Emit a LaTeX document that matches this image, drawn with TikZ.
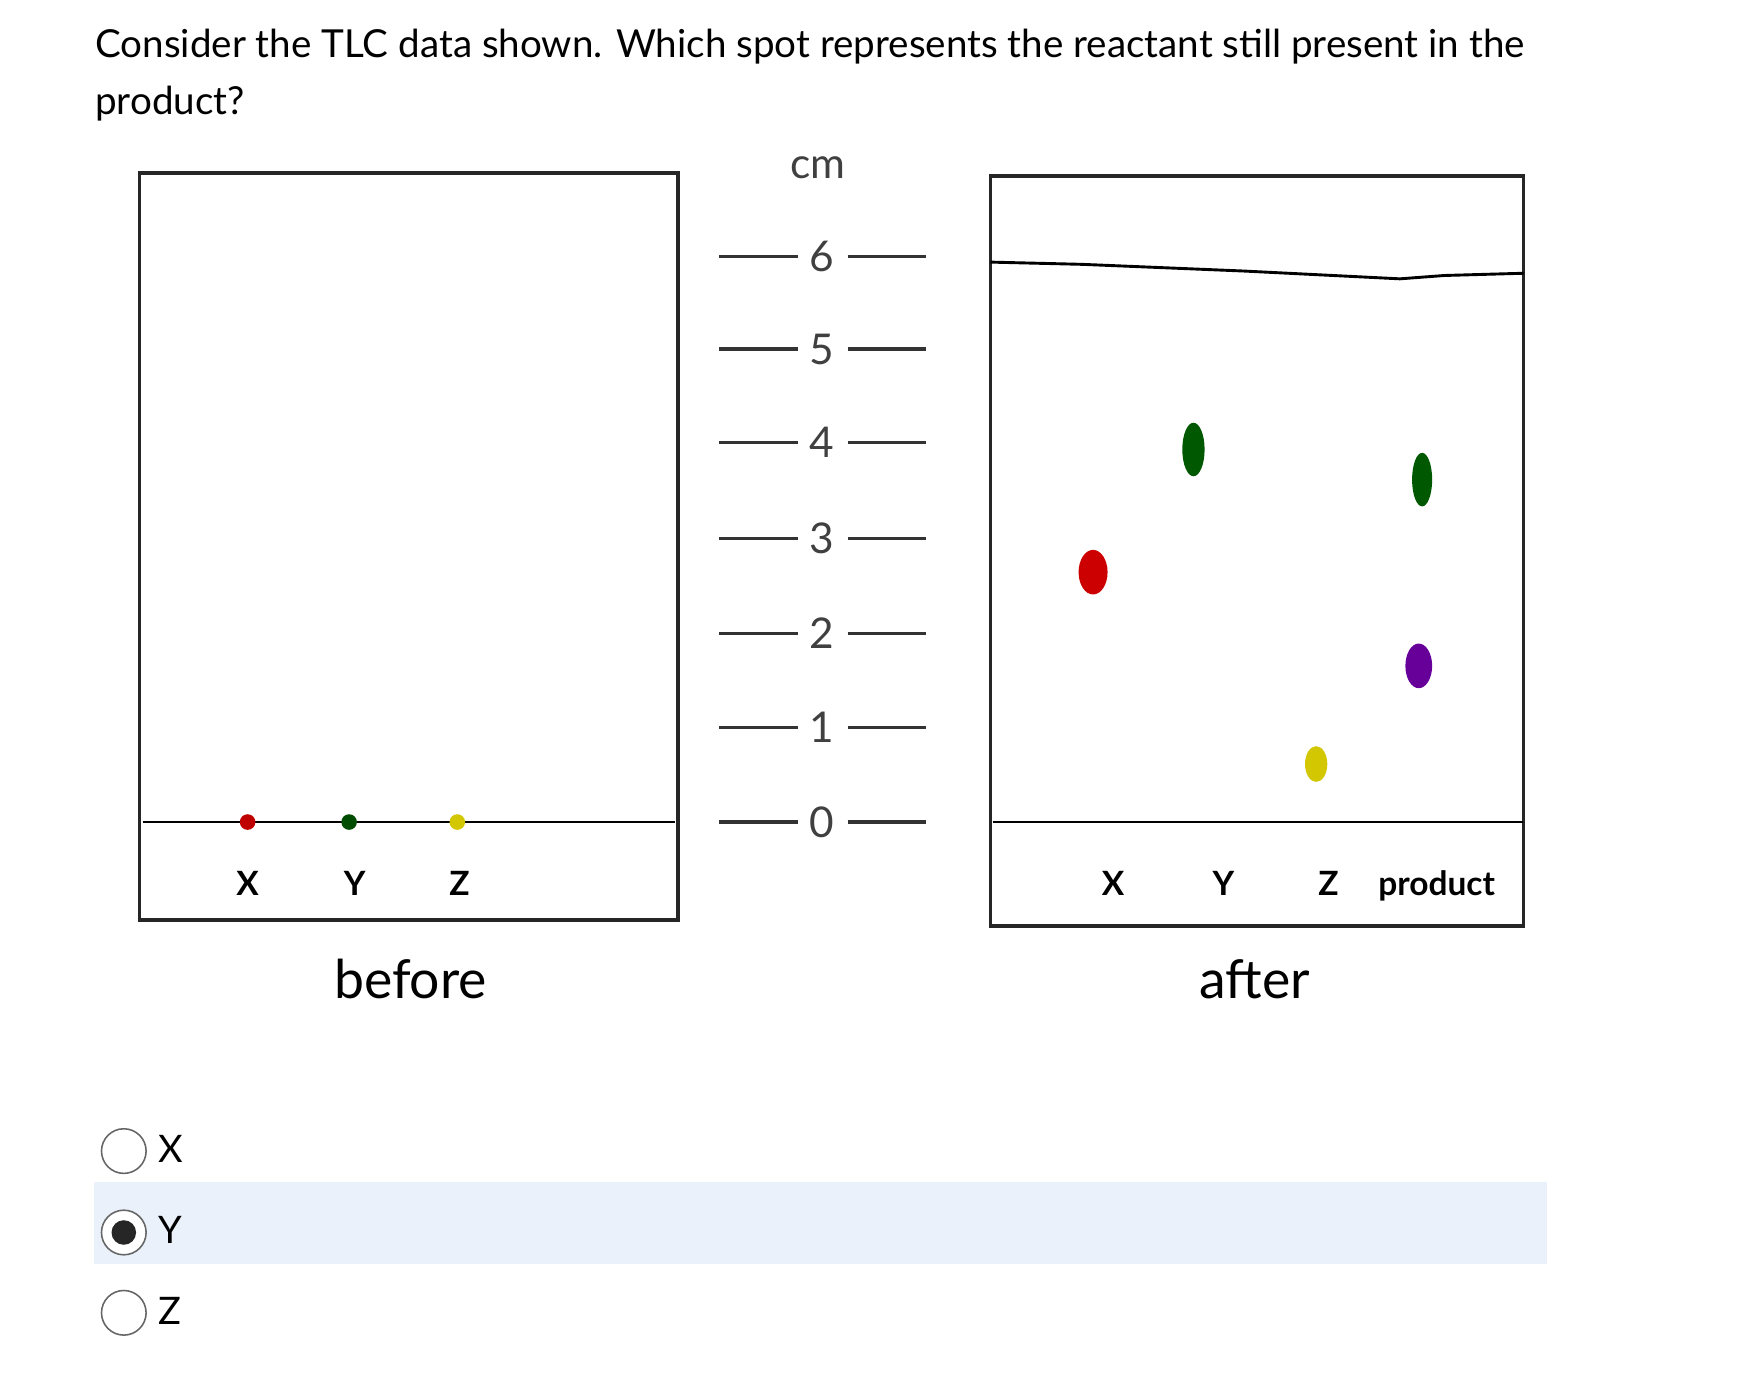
\documentclass[tikz,border=0pt]{standalone}
\usepackage{fontspec}
\setmainfont{Lato}
\usetikzlibrary{shapes.geometric}
\definecolor{hl}{HTML}{EAF1FB}
\begin{document}
\begin{tikzpicture}[x=0.5pt,y=-0.5pt,
  plate/.style={draw=black!85,line width=1.6pt},
  lane/.style={font=\bfseries\fontsize{15}{18}\selectfont,anchor=base},
  captext/.style={font=\fontsize{24}{28}\selectfont,anchor=base},
  tickline/.style={draw=black!80,line width=1.5pt},
  digit/.style={font=\fontsize{19}{22}\selectfont,text=black!75},
  spot/.style={ellipse,minimum width=#1,inner sep=0pt},
  radio/.style={circle,draw=black!60,line width=0.7pt,minimum size=20pt,inner sep=0pt},
  opt/.style={font=\fontsize{17}{20}\selectfont,anchor=west}]
\useasboundingbox (0,0) rectangle (1560,1234);
\node[anchor=base west,inner sep=0pt,font=\fontsize{17.3}{24}\selectfont] (q) at (85,52) {Consider the TLC data shown. Which spot represents the reactant still present in the};
\node[anchor=base west,inner sep=0pt,font=\fontsize{17.3}{24}\selectfont] (q2) at (85,103) {product?};
% before plate
\draw[plate] (125,155) rectangle (608,825);
\draw[line width=0.5pt] (128,737) -- (605,737);
\fill[red!75!black] (222,737) circle (7);
\fill[green!30!black] (313,737) circle (7);
\fill[yellow!60!olive] (410,737) circle (7);
\node[lane] (bx) at (222,803) {X};
\node[lane] (by) at (318,803) {Y};
\node[lane] (bz) at (412,803) {Z};
\node[captext] (before) at (368,895) {before};
% ruler
\node[font=\fontsize{19}{22}\selectfont,text=black!75] (cm) at (733,150) {cm};
\foreach \n/\y in {6/230,5/313,4/397,3/483,2/568,1/652,0/737}{
  \draw[tickline] (645,\y) -- (715,\y);
  \draw[tickline] (760,\y) -- (830,\y);
  \node[digit] (d\n) at (737,\y) {\n};
}
% after plate
\draw[plate] (888,158) rectangle (1366,830);
\draw[line width=1.3pt] (888,235) -- (970,237) -- (1115,243) -- (1255,250) -- (1295,247) -- (1366,245);
\draw[line width=0.5pt] (890,737) -- (1365,737);
\node[spot=13pt,minimum height=20pt,fill=red!80!black] (sx) at (980,513) {};
\node[spot=10pt,minimum height=24pt,fill=green!35!black] (sy) at (1070,403) {};
\node[spot=9pt,minimum height=24pt,fill=green!35!black] (sp1) at (1275,430) {};
\node[spot=12pt,minimum height=20pt,fill=violet!80!blue] (sp2) at (1272,597) {};
\node[spot=10pt,minimum height=16pt,fill=yellow!60!olive] (sz) at (1180,685) {};
\node[lane] (ax) at (998,803) {X};
\node[lane] (ay) at (1097,803) {Y};
\node[lane] (az) at (1191,803) {Z};
\node[lane] (ap) at (1288,803) {product};
\node[captext] (after) at (1125,895) {after};
% options
\fill[hl] (84,1060) rectangle (1387,1133);
\node[radio] (r1) at (111,1032) {};
\node[opt] (o1) at (135,1030) {X};
\node[radio,fill=white] (r2) at (111,1105) {};
\fill[black!85] (r2) circle (11);
\node[opt] (o2) at (135,1103) {Y};
\node[radio] (r3) at (111,1177) {};
\node[opt] (o3) at (135,1175) {Z};
\end{tikzpicture}
\end{document}
